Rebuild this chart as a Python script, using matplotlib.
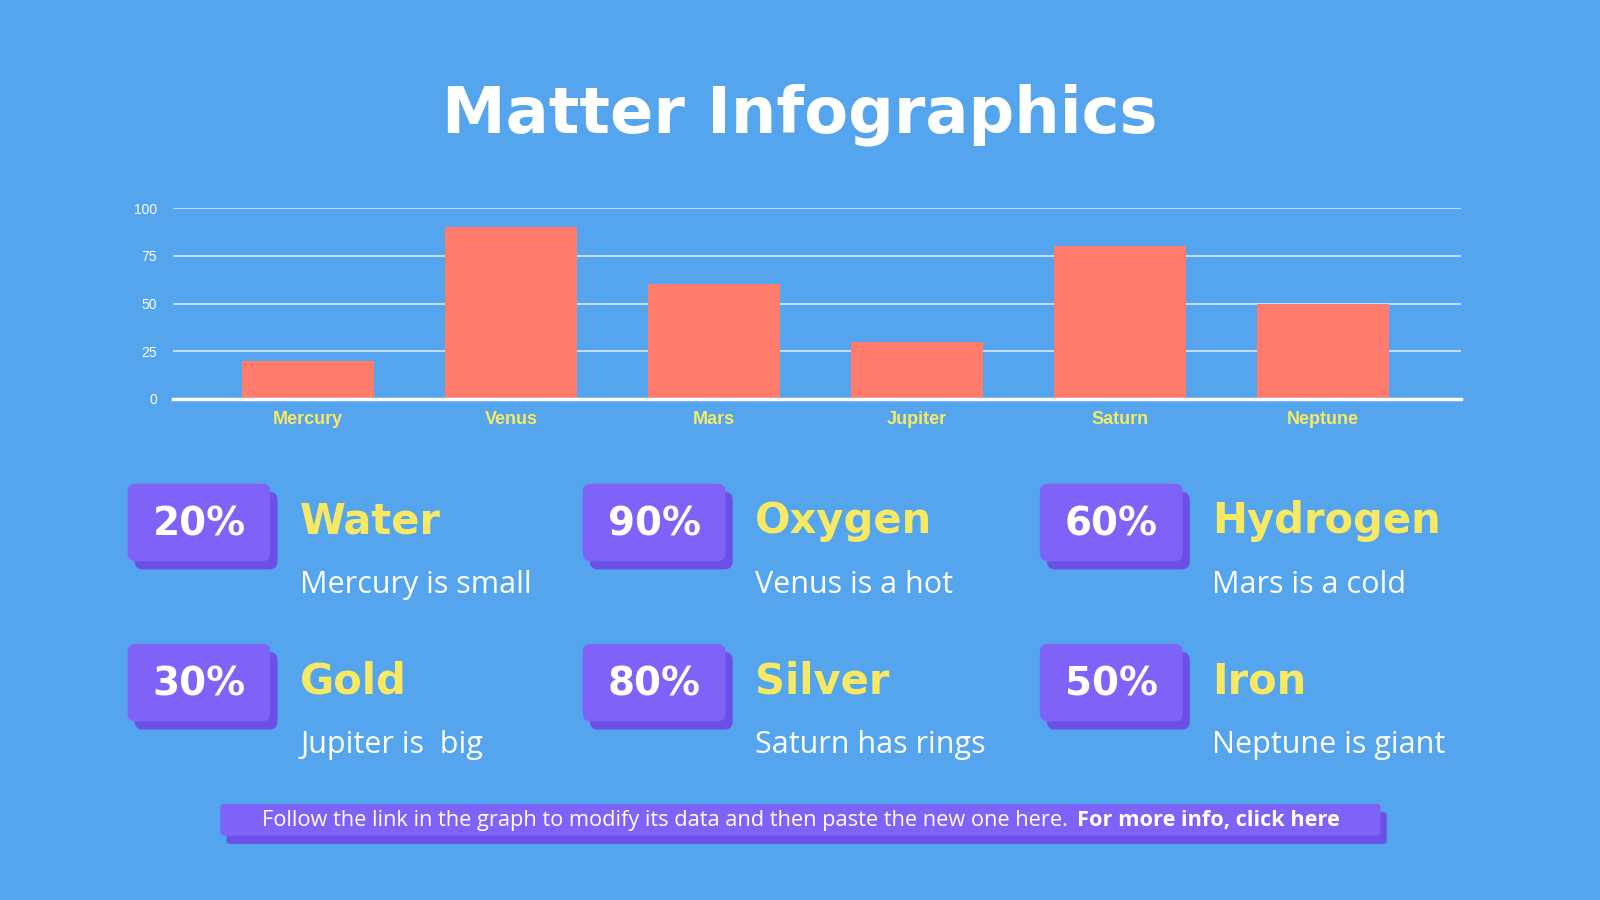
import matplotlib
matplotlib.use("Agg")
import matplotlib.pyplot as plt
from matplotlib.patches import FancyBboxPatch

planets = ["Mercury", "Venus", "Mars", "Jupiter", "Saturn", "Neptune"]
values = [20, 90, 60, 30, 80, 50]
percent_labels = ["20%", "90%", "60%", "30%", "80%", "50%"]
elements = ["Water", "Oxygen", "Hydrogen", "Gold", "Silver", "Iron"]
descriptions = ["Mercury is small", "Venus is a hot", "Mars is a cold",
                "Jupiter is  big", "Saturn has rings", "Neptune is giant"]
y_ticks = [0, 25, 50, 75, 100]

BG = "#55A5EE"
BAR = "#FF7B6B"
YELLOW = "#F7E964"
PURPLE = "#7F63F9"
PURPLE_DARK = "#6B4FE6"
W, H = 1568, 882

fig = plt.figure(figsize=(16, 9), dpi=100, facecolor=BG)

# overlay in pixel coords of the reference
ov = fig.add_axes([0, 0, 1, 1])
ov.set_xlim(0, W)
ov.set_ylim(H, 0)
ov.axis("off")

ov.text(784, 112, "Matter Infographics", color="white", fontsize=46,
        fontweight="bold", ha="center", va="center", family="DejaVu Sans")

# bar chart
ax = fig.add_axes([170 / W, 1 - 391 / H, (1432 - 170) / W, (391 - 204) / H])
ax.set_facecolor(BG)
ax.bar(range(len(planets)), values, width=0.65, color=BAR, zorder=3)
ax.set_xlim(-0.663, 5.68)
ax.set_ylim(0, 100)
ax.set_yticks(y_ticks)
ax.grid(axis="y", color="#CFE3F7", linewidth=1.3, zorder=0)
for s in ["top", "right", "left"]:
    ax.spines[s].set_visible(False)
ax.spines["bottom"].set_color("white")
ax.spines["bottom"].set_linewidth(2.5)
ax.spines["bottom"].set_zorder(4)
ax.tick_params(length=0)
ax.tick_params(axis="y", colors="white", labelsize=10, pad=12)
for t in ax.get_yticklabels():
    t.set_family("Liberation Sans")
ax.set_xticks(range(len(planets)))
ax.set_xticklabels(planets, color=YELLOW, fontsize=13, fontweight="bold",
                   family="Liberation Sans")
ax.tick_params(axis="x", pad=9)

# cards
col_x = [125, 571, 1019]
row_y = [474, 631]
for i in range(6):
    x = col_x[i % 3]
    y = row_y[i // 3]
    ov.add_patch(FancyBboxPatch((x + 7, y + 8), 140, 76,
                 boxstyle="round,pad=0,rounding_size=8", fc=PURPLE_DARK, ec="none"))
    ov.add_patch(FancyBboxPatch((x, y), 140, 76,
                 boxstyle="round,pad=0,rounding_size=8", fc=PURPLE, ec="none"))
    ov.text(x + 70, y + 40, percent_labels[i], color="white", fontsize=28,
            fontweight="bold", ha="center", va="center")
    ov.text(x + 169, y + 37, elements[i], color=YELLOW, fontsize=30,
            fontweight="bold", ha="left", va="center")
    ov.text(x + 169, y + 99, descriptions[i], color="white", fontsize=22,
            ha="left", va="center", family="Open Sans")

# footer
ov.add_patch(FancyBboxPatch((222, 796), 1137, 31,
             boxstyle="round,pad=0,rounding_size=3", fc=PURPLE_DARK, ec="none"))
ov.add_patch(FancyBboxPatch((216, 788), 1137, 31,
             boxstyle="round,pad=0,rounding_size=3", fc=PURPLE, ec="none"))
ov.text(1052, 804, "Follow the link in the graph to modify its data and then paste the new one here. ",
        color="white", fontsize=15.7, ha="right", va="center", family="Open Sans")
ov.text(1055, 804, "For more info, click here", color="white", fontsize=15.7,
        fontweight="bold", ha="left", va="center", family="Open Sans")

fig.savefig("out.png", dpi=100, facecolor=BG)
